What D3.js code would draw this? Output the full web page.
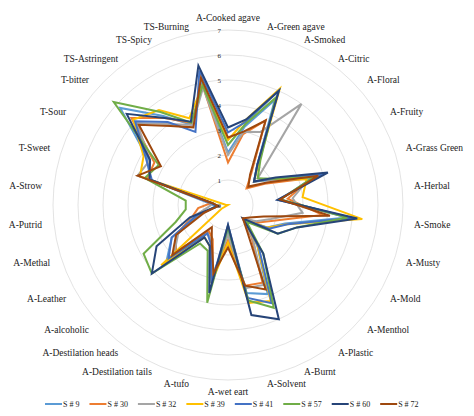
<!DOCTYPE html>
<html>
<head>
<meta charset="utf-8">
<script src="https://cdn.jsdelivr.net/npm/d3@7"></script>
<style>
  body { margin: 0; background: #fff; }
</style>
</head>
<body>
<div id="chart"></div>
<script>
var categories = ["A-Cooked agave", "A-Green agave", "A-Smoked", "A-Citric", "A-Floral", "A-Fruity",
  "A-Grass Green", "A-Herbal", "A-Smoke", "A-Musty", "A-Mold", "A-Menthol", "A-Plastic", "A-Burnt",
  "A-Solvent", "A-wet eart", "A-tufo", "A-Destilation tails", "A-Destilation heads", "A-alcoholic",
  "A-Leather", "A-Methal", "A-Putrid", "A-Strow", "T-Sweet", "T-Sour", "T-bitter", "TS-Astringent",
  "TS-Spicy", "TS-Burning"]

var ticks = [0, 1, 2, 3, 4, 5, 6, 7]

var names = ["S # 9", "S # 30", "S # 32", "S # 39", "S # 41", "S # 57", "S # 60", "S # 72"]
var colors = ["#5b9bd5", "#ed7d31", "#a5a5a5", "#ffc000", "#4472c4", "#70ad47", "#264478", "#9e480e"]

var s9  = [2.1, 3.2, 4.6, 2.0, 1.4, 2.0, 3.6, 2.1, 4.8, 2.4, 1.8, 0.9, 2.0, 3.9, 3.6, 1.1, 3.0, 1.6, 1.4, 3.3, 2.6, 1.2, 0.5, 0.8, 3.3, 3.7, 5.8, 4.4, 3.5, 5.0]
var s30 = [1.7, 2.9, 3.7, 1.6, 1.0, 1.7, 3.5, 2.4, 3.8, 2.0, 1.4, 0.8, 1.6, 3.4, 3.3, 1.4, 2.9, 1.5, 1.3, 2.8, 2.4, 1.5, 1.2, 0.7, 3.4, 3.4, 5.2, 4.3, 3.6, 4.9]
var s32 = [2.0, 3.0, 3.2, 5.0, 1.6, 2.0, 3.4, 2.6, 3.0, 1.8, 1.3, 0.8, 1.7, 3.5, 3.4, 1.2, 2.8, 1.6, 1.4, 2.9, 2.3, 1.4, 0.8, 0.6, 3.8, 3.6, 4.9, 4.0, 3.5, 4.8]
var s39 = [2.6, 3.5, 5.1, 2.1, 1.4, 2.1, 3.3, 3.0, 5.4, 2.5, 1.8, 0.9, 2.0, 4.2, 4.0, 1.5, 3.2, 1.8, 1.6, 3.6, 0.3, 0.0, 0.0, 0.1, 3.7, 3.9, 5.1, 4.7, 3.8, 4.9]
var s41 = [2.9, 3.4, 5.0, 2.0, 1.4, 2.1, 4.0, 2.0, 5.0, 2.5, 1.9, 0.9, 2.1, 4.3, 3.8, 0.8, 3.2, 1.7, 1.4, 3.2, 2.6, 1.3, 0.4, 0.7, 3.2, 3.8, 5.0, 4.1, 3.2, 5.5]
var s57 = [2.4, 3.3, 4.7, 2.2, 1.6, 2.1, 3.6, 2.1, 4.8, 2.9, 2.3, 1.0, 2.4, 4.5, 3.9, 0.9, 4.0, 2.0, 1.9, 4.1, 3.9, 2.2, 1.7, 1.7, 3.5, 3.2, 6.15, 4.6, 3.6, 4.9]
var s60 = [3.1, 3.5, 5.0, 2.0, 1.4, 2.2, 4.2, 2.0, 5.2, 2.9, 2.3, 0.8, 2.4, 5.0, 4.5, 0.8, 3.6, 1.8, 1.6, 4.1, 3.3, 1.6, 0.4, 0.6, 3.3, 3.6, 5.45, 4.3, 3.65, 5.7]
var s72 = [2.7, 3.0, 3.7, 1.5, 1.1, 1.8, 3.8, 2.1, 4.1, 1.5, 1.0, 0.8, 1.3, 3.7, 3.3, 1.7, 2.8, 1.6, 1.1, 3.0, 2.4, 1.0, 0.4, 0.6, 3.8, 3.1, 4.8, 3.9, 3.4, 5.2]

var series = [s9, s30, s32, s39, s41, s57, s60, s72]

var width = 474, height = 416
var cx = 228, cy = 205, R = 175
var serif = "'Liberation Serif', 'DejaVu Serif', 'Times New Roman', serif"

var svg = d3.select("#chart").append("svg")
  .attr("width", width)
  .attr("height", height)
  .attr("font-family", serif)
  .style("background", "#fff")

var graph = svg.append("g")
  .attr("transform", "translate(" + cx + "," + cy + ")")

var r = d3.scaleLinear().domain([0, 7]).range([0, R])
var angle = d3.scaleLinear().domain([0, categories.length]).range([0, 2 * Math.PI])

// grid rings
graph.selectAll("circle.grid")
  .data(ticks.slice(1))
  .enter().append("circle")
  .attr("class", "grid")
  .attr("r", d => r(d))
  .attr("fill", "none")
  .attr("stroke", "#dcdcdc")
  .attr("stroke-width", 0.8)

// series, last one drawn on top
var line = d3.lineRadial()
  .angle((d, i) => angle(i))
  .radius(d => r(d))
  .curve(d3.curveLinearClosed)

graph.selectAll("path.series")
  .data(series)
  .enter().append("path")
  .attr("class", "series")
  .attr("d", d => line(d))
  .attr("fill", "none")
  .attr("stroke", (d, i) => colors[i])
  .attr("stroke-width", 2)
  .attr("stroke-linejoin", "miter")

// tick labels
graph.selectAll("text.tick")
  .data(ticks)
  .enter().append("text")
  .attr("class", "tick")
  .attr("x", -7)
  .attr("y", d => -r(d) + 3)
  .attr("text-anchor", "end")
  .attr("fill", "#222")
  .style("font-size", "7px")
  .text(d => d)

// category labels
graph.selectAll("text.cat")
  .data(categories)
  .enter().append("text")
  .attr("class", "cat")
  .each(function(d, i) {
    var a = angle(i)
    var s = Math.sin(a), c = Math.cos(a)
    var x = (R + 12) * s
    var y = -(R + 12) * c
    if (Math.abs(s) > 0.01 && c > 0.8) y += 5
    if (Math.abs(s) > 0.01 && c < -0.8) y -= 4
    d3.select(this)
      .attr("x", x)
      .attr("y", y)
      .attr("dy", "0.35em")
      .attr("text-anchor", Math.abs(s) < 0.01 ? "middle" : (s > 0 ? "start" : "end"))
  })
  .attr("fill", "#222")
  .style("font-size", "9.5px")
  .text(d => d)

// legend
var legend = svg.append("g").attr("transform", "translate(45,404)")
var lx = 0
names.forEach(function(n, i) {
  var g = legend.append("g").attr("transform", "translate(" + lx + ",0)")
  g.append("line")
    .attr("x1", 0).attr("x2", 17)
    .attr("y1", 0).attr("y2", 0)
    .attr("stroke", colors[i])
    .attr("stroke-width", 2)
  var t = g.append("text")
    .attr("x", 18)
    .attr("y", 3)
    .attr("fill", "#222")
    .style("font-size", "8px")
    .text(n)
  lx += 18 + t.node().getComputedTextLength() + 10
})
</script>
</body>
</html>
